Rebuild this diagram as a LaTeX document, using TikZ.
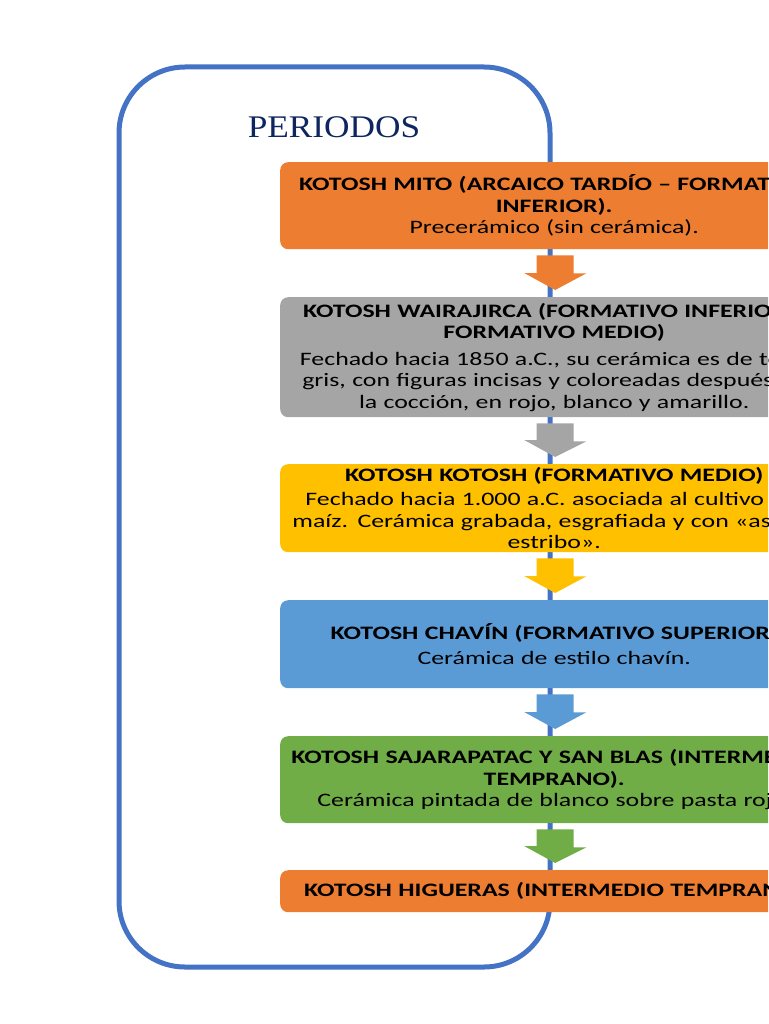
\documentclass[tikz,border=0pt]{standalone}
\usepackage{fontspec}
\newfontfamily\cajafont{Carlito}[FakeStretch=1.36]
\newfontfamily\titfont{Liberation Serif}[FakeStretch=1.12]
\usetikzlibrary{calc}
\definecolor{contorno}{RGB}{68,114,196}
\definecolor{titazul}{RGB}{14,38,96}
\definecolor{naranjakt}{RGB}{237,125,49}
\definecolor{griskt}{RGB}{165,165,165}
\definecolor{amarillokt}{RGB}{255,192,0}
\definecolor{azulkt}{RGB}{91,155,213}
\definecolor{verdekt}{RGB}{112,173,71}

\begin{document}
\begin{tikzpicture}[x=1pt, y=-1pt,
        font=\cajafont\fontsize{19}{21.5}\selectfont,
        periodo/.style={rectangle, rounded corners=8pt, fill=#1, anchor=north west,
                        text width=532pt, inner xsep=8pt, inner ysep=0pt, align=center}
    ]
    \useasboundingbox (0,0) rectangle (768,1024);
    \clip (0,0) rectangle (768,1024);
    % marco
    \draw[contorno, line width=5pt, rounded corners=66pt] (119,67) rectangle (550,967);
    \node[titazul, font=\titfont\fontsize{31.5}{34}\selectfont] (titulo) at (334,127) {PERIODOS};
    % cajas
    \node[periodo=naranjakt, minimum height=87pt] (mito) at (280,162)
        {{\bfseries KOTOSH MITO (ARCAICO TARDÍO – FORMATIVO\\ INFERIOR).}\\
         Precerámico (sin cerámica).};
    \node[periodo=griskt, minimum height=120pt] (wairajirca) at (280,297)
        {{\bfseries KOTOSH WAIRAJIRCA (FORMATIVO INFERIOR –\\ FORMATIVO MEDIO)}\\[5pt]
         Fechado hacia 1850 a.C., su cerámica es de tono\\
         gris, con figuras incisas y coloreadas después de\\
         la cocción, en rojo, blanco y amarillo.};
    \node[periodo=amarillokt, minimum height=88pt] (kotosh) at (280,464)
        {{\bfseries KOTOSH KOTOSH (FORMATIVO MEDIO)}\\[3pt]
         Fechado hacia 1.000 a.C. asociada al cultivo del\\
         maíz. Cerámica grabada, esgrafiada y con «asa de\\
         estribo».};
    \node[periodo=azulkt, minimum height=88pt] (chavin) at (280,600)
        {{\bfseries KOTOSH CHAVÍN (FORMATIVO SUPERIOR)}\\[3pt]
         Cerámica de estilo chavín.};
    \node[periodo=verdekt, minimum height=87pt] (sajarapatac) at (280,736)
        {{\bfseries KOTOSH SAJARAPATAC Y SAN BLAS (INTERMEDIO\\ TEMPRANO).}\\
         Cerámica pintada de blanco sobre pasta roja.};
    \node[periodo=naranjakt, minimum height=42pt] (higueras) at (280,870)
        {\bfseries KOTOSH HIGUERAS (INTERMEDIO TEMPRANO)};
    % flechas
    \foreach \a/\b/\c in {mito/wairajirca/naranjakt, wairajirca/kotosh/griskt,
                          kotosh/chavin/amarillokt, chavin/sajarapatac/azulkt,
                          sajarapatac/higueras/verdekt}
    {
        \fill[\c] ($(\a.south)+(1,6)$) ++(-18.5,0) -- ++(37,0) -- ++(0,18) -- ++(12.5,0)
            -- ($(\b.north)+(1,-7)$) -- ++(-31,-17) -- ++(12.5,0) -- cycle;
    }
\end{tikzpicture}
\end{document}
